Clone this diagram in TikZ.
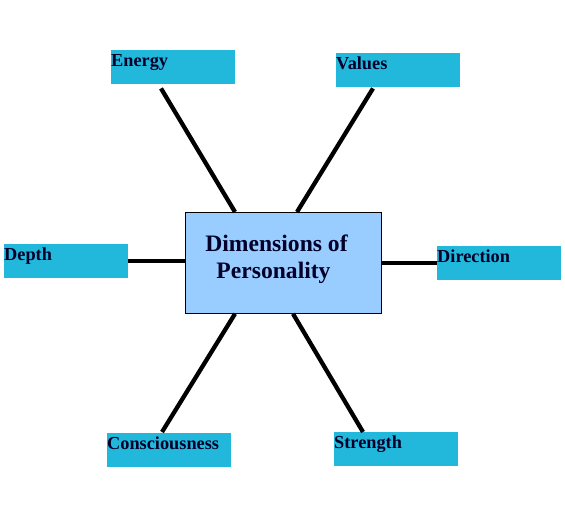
\documentclass[tikz,border=0pt]{standalone}
\usepackage{fontspec}
\setmainfont{Liberation Serif}
\definecolor{boxcyan}{RGB}{34,184,220}
\definecolor{corefill}{RGB}{153,204,255}
\definecolor{inkblue}{RGB}{0,0,40}
\tikzset{
  lblbox/.style={fill=boxcyan, draw=none, inner sep=0pt, minimum width=124pt, minimum height=34pt, anchor=north west},
  lbltext/.style={inner sep=0pt, anchor=base west, text=inkblue, font=\fontsize{18.3}{21}\selectfont\bfseries},
  coretext/.style={inner sep=0pt, anchor=base, text=inkblue, font=\fontsize{23.6}{27}\selectfont\bfseries},
  spoke/.style={line width=4.3pt, draw=black},
}
\begin{document}
\begin{tikzpicture}[x=1pt,y=-1pt]
\useasboundingbox (0,0) rectangle (565,525);
% centre box
\node[fill=corefill, draw=black, line width=0.8pt, inner sep=0pt, minimum width=196pt, minimum height=101pt, anchor=north west] (core) at (185,212) {};
\node[coretext] (coret1) at (276.5,251) {Dimensions of};
\node[coretext] (coret2) at (273.5,278) {Personality};
% label boxes
\node[lblbox] (energy) at (111,50) {};
\node[lblbox] (values) at (336,53) {};
\node[lblbox] (depth) at (4,244) {};
\node[lblbox] (direction) at (437,246) {};
\node[lblbox] (conscious) at (107,433) {};
\node[lblbox] (strength) at (334,432) {};
\node[lbltext] (energyt) at ([yshift=-16.5pt]energy.north west) {Energy};
\node[lbltext] (valuest) at ([yshift=-16pt]values.north west) {Values};
\node[lbltext] (deptht) at ([yshift=-16pt]depth.north west) {Depth};
\node[lbltext] (directiont) at ([yshift=-16pt]direction.north west) {Direction};
\node[lbltext] (conscioust) at ([yshift=-16pt]conscious.north west) {Consciousness};
\node[lbltext] (strengtht) at ([yshift=-16pt]strength.north west) {Strength};
% spokes
\draw[spoke] ([xshift=50pt,yshift=-4pt]energy.south west) -- ([xshift=50pt]core.north west);
\draw[spoke] ([xshift=37pt,yshift=-1pt]values.south west) -- ([xshift=112pt]core.north west);
\draw[spoke] (depth.east) -- (depth.east -| core.west);
\draw[spoke] (core.east) -- (core.east -| direction.west);
\draw[spoke] ([xshift=50pt]core.south west) -- ([xshift=55pt,yshift=1pt]conscious.north west);
\draw[spoke] ([xshift=108pt]core.south west) -- ([xshift=29pt]strength.north west);
\end{tikzpicture}
\end{document}
